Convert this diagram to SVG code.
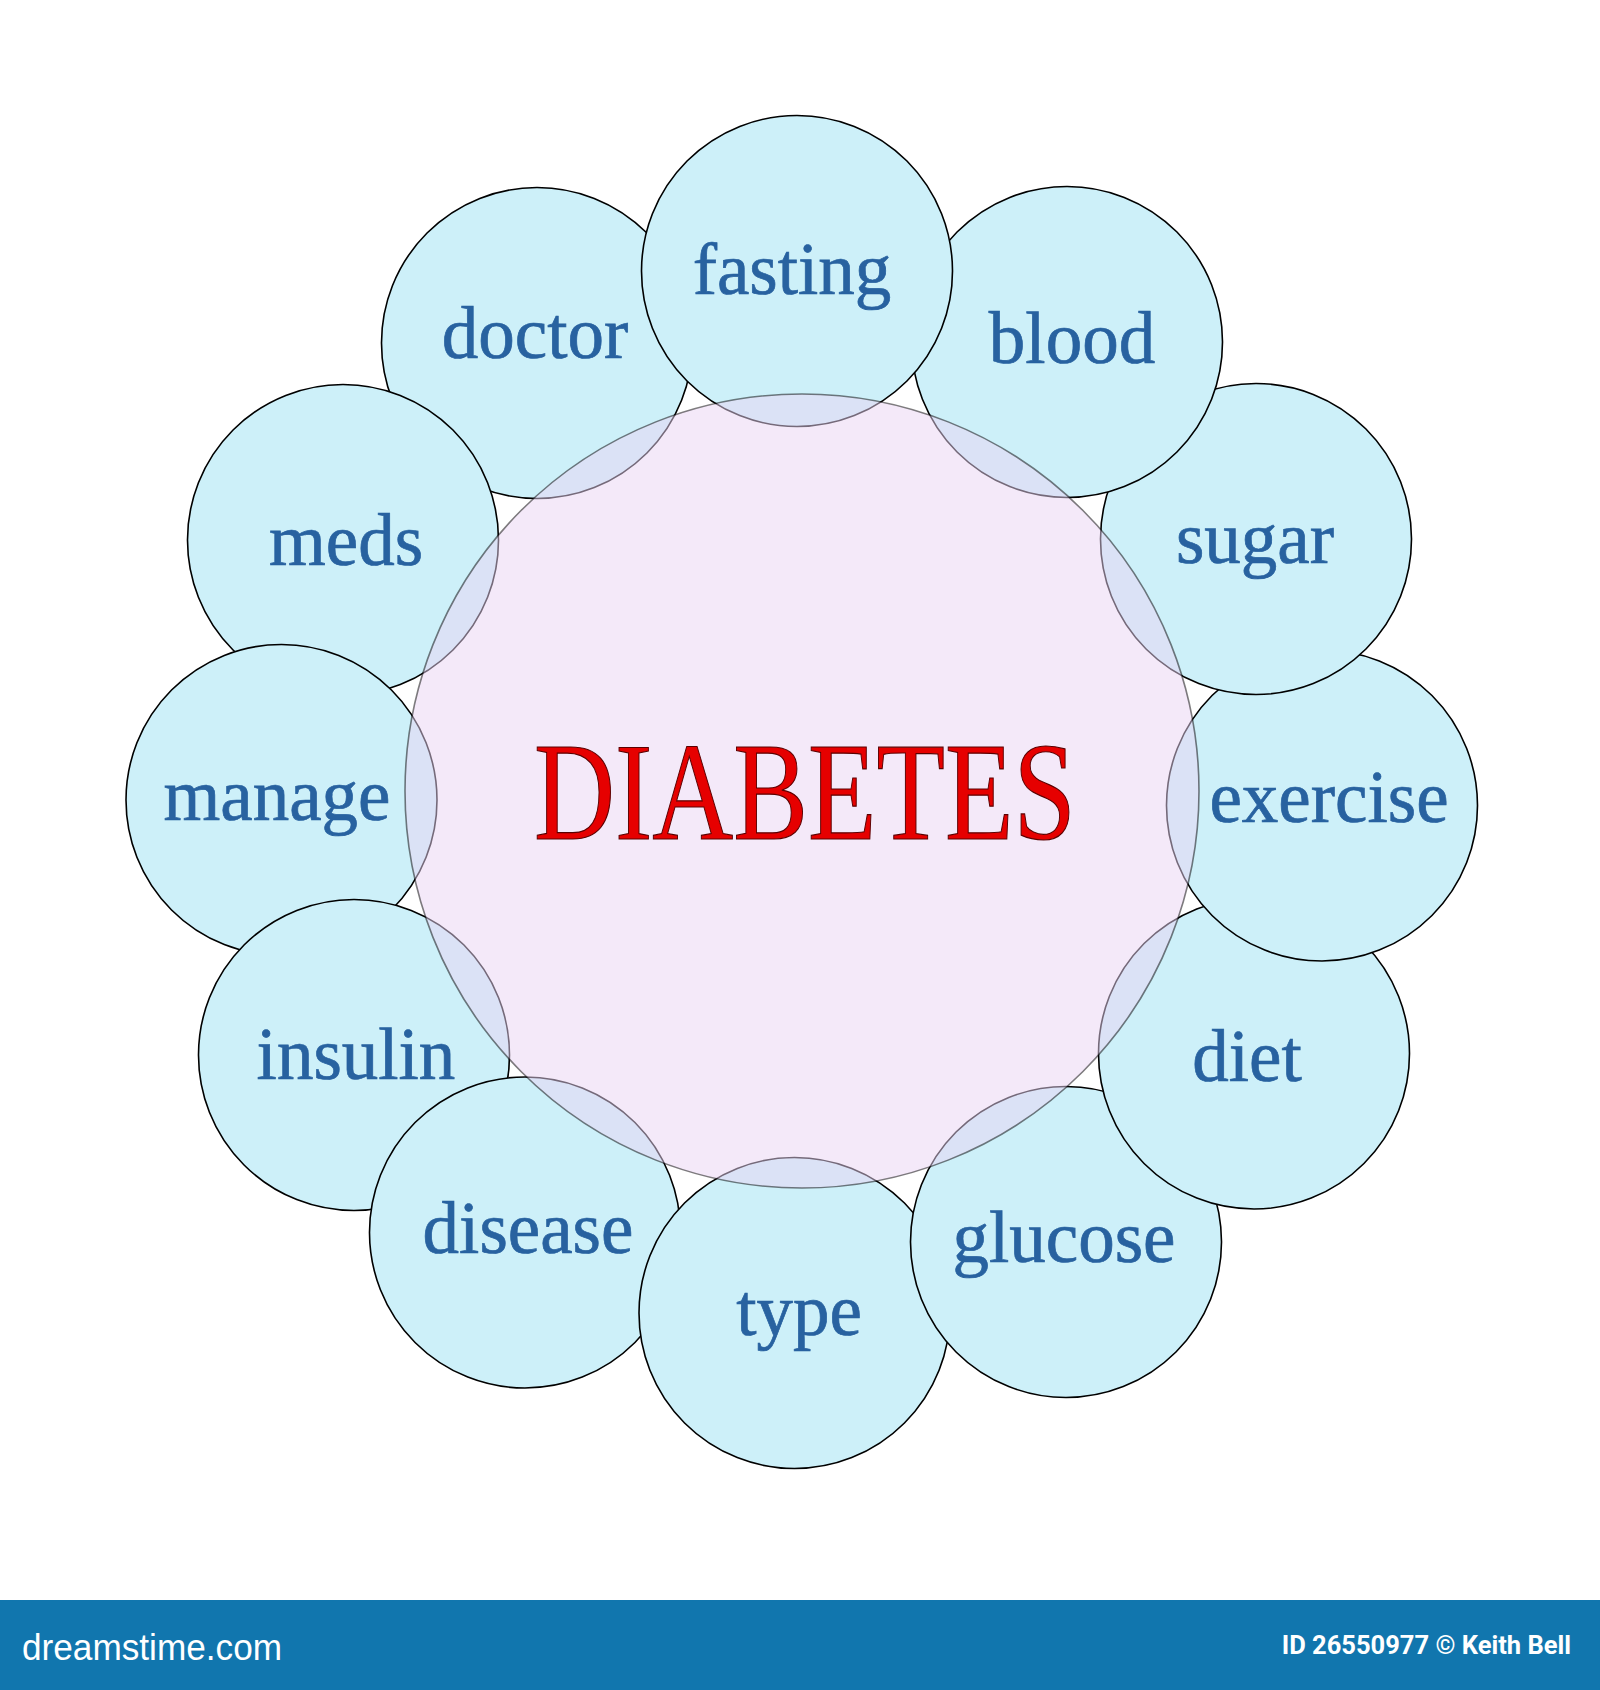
<svg xmlns="http://www.w3.org/2000/svg" width="1600" height="1690" viewBox="0 0 1600 1690">
  <style>
    .outer { fill: #cdf0f9; stroke: #000; stroke-width: 1.6; }
    .label { font-family: "Liberation Serif", "Times New Roman", serif; font-size: 73px; fill: #2862a0; stroke: #2862a0; stroke-width: 0.7; text-anchor: middle; }
    .hub { fill: #e9d3f3; fill-opacity: 0.5; stroke: #000; stroke-opacity: 0.5; stroke-width: 1.6; }
    .title { font-family: "Liberation Serif", "Times New Roman", serif; font-size: 139px; fill: #e60000; stroke: #5a0000; stroke-width: 1.2; }
    .bar { fill: #1176ae; }
    .brand { font-family: "Liberation Sans", Arial, sans-serif; font-size: 36px; fill: #ffffff; }
    .credit { font-family: Roboto, "Liberation Sans", sans-serif; font-size: 25.5px; font-weight: bold; fill: #ffffff; text-anchor: end; }
  </style>
  <rect x="0" y="0" width="1600" height="1690" fill="#ffffff"/>

  <g id="node-doctor"><circle class="outer" cx="537" cy="343" r="155.5"/><text class="label" x="535" y="358">doctor</text></g>
  <g id="node-meds"><circle class="outer" cx="343" cy="540" r="155.5"/><text class="label" x="346" y="565">meds</text></g>
  <g id="node-manage"><circle class="outer" cx="281.5" cy="800" r="155.5"/><text class="label" x="277" y="820">manage</text></g>
  <g id="node-insulin"><circle class="outer" cx="354" cy="1055" r="155.5"/><text class="label" x="356" y="1079">insulin</text></g>
  <g id="node-disease"><circle class="outer" cx="525" cy="1232.5" r="155.5"/><text class="label" x="528" y="1253">disease</text></g>
  <g id="node-type"><circle class="outer" cx="794.5" cy="1313" r="155.5"/><text class="label" x="799" y="1335">type</text></g>
  <g id="node-glucose"><circle class="outer" cx="1066" cy="1242" r="155.5"/><text class="label" x="1064" y="1262">glucose</text></g>
  <g id="node-diet"><circle class="outer" cx="1254" cy="1053.5" r="155.5"/><text class="label" x="1247" y="1081">diet</text></g>
  <g id="node-exercise"><circle class="outer" cx="1322" cy="805.5" r="155.5"/><text class="label" x="1329" y="822">exercise</text></g>
  <g id="node-sugar"><circle class="outer" cx="1256" cy="539" r="155.5"/><text class="label" x="1255" y="563">sugar</text></g>
  <g id="node-blood"><circle class="outer" cx="1067" cy="342" r="155.5"/><text class="label" x="1072" y="363">blood</text></g>
  <g id="node-fasting"><circle class="outer" cx="797" cy="271" r="155.5"/><text class="label" x="792" y="294">fasting</text></g>

  <g id="node-diabetes">
    <circle class="hub" cx="802" cy="791" r="397"/>
    <text class="title" x="534" y="839" textLength="542" lengthAdjust="spacingAndGlyphs">DIABETES</text>
  </g>

  <g id="connectors"/>

  <g id="footer">
    <rect class="bar" x="0" y="1600" width="1600" height="90"/>
    <text class="brand" x="22" y="1660" textLength="260" lengthAdjust="spacingAndGlyphs">dreamstime.com</text>
    <text class="credit" x="1571" y="1654">ID 26550977 © Keith Bell</text>
  </g>
</svg>
